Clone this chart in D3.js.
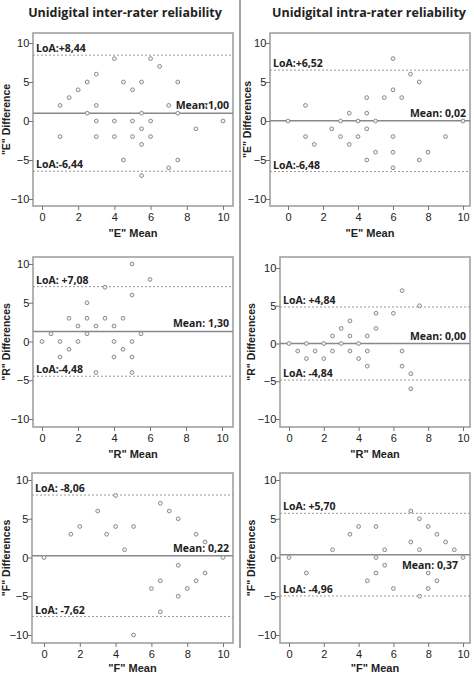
<!DOCTYPE html>
<html><head><meta charset="utf-8">
<script src="https://cdn.jsdelivr.net/npm/d3@7"></script>
<style>body{margin:0;background:#fff}</style></head>
<body><svg id="c" width="474" height="678"></svg>
<script>
const titles = ["Unidigital inter-rater reliability","Unidigital intra-rater reliability"];
const xTicks = [0,2,4,6,8,10];
const yTicks = [-10,-5,0,5,10];
const eInter = [[1,2],[1,-2],[1.5,3],[2,4],[2.5,5],[2.5,1],[3,6],[3,2],[3,0],[3,-2],[4,8],[4,0],[4,-2],[4.5,5],[4.5,-5],[5,4],[5,0],[5,-2],[5.5,5],[5.5,1],[5.5,-1],[5.5,-3],[5.5,-7],[6,8],[6,0],[6,-2],[6.5,7],[7,2],[7,-6],[7.5,5],[7.5,1],[7.5,-5],[8.5,-1],[9,2],[10,0]];
const eIntra = [[0,0],[1,2],[1,-2],[1.5,-3],[2.5,-1],[3,0],[3,-2],[3.5,1],[3.5,-3],[4,0],[4,-2],[4.5,3],[4.5,1],[4.5,-1],[4.5,-5],[5,0],[5,-4],[5.5,3],[6,8],[6,4],[6,-2],[6,-4],[6,-6],[6.5,3],[7,6],[7.5,5],[7.5,-5],[8,-4],[9,-2],[10,0]];
const rInter = [[0,0],[0.5,1],[1,0],[1,-2],[1.5,3],[1.5,-1],[2,2],[2,0],[2.5,5],[2.5,3],[2.5,1],[3,2],[3,-4],[3.5,7],[3.5,3],[4,2],[4,0],[4,-2],[4.5,3],[4.5,-1],[5,10],[5,6],[5,0],[5,-2],[5,-4],[5.5,1],[6,8]];
const rIntra = [[0,0],[0.5,-1],[1,0],[1,-2],[1.5,-1],[2,0],[2,-2],[2.5,1],[2.5,-1],[3,2],[3,0],[3.5,3],[3.5,1],[3.5,-1],[4,0],[4,-2],[4.5,1],[4.5,-1],[4.5,-3],[5,4],[5,2],[6,4],[6.5,7],[6.5,-1],[6.5,-3],[7,-4],[7,-6],[7.5,5]];
const fInter = [[0,0],[1.5,3],[2,4],[3,6],[3.5,3],[4,8],[4,4],[4.5,1],[5,4],[5,-10],[6,-4],[6.5,7],[6.5,-3],[6.5,-7],[7,6],[7.5,5],[7.5,-1],[7.5,-5],[8,-4],[8.5,3],[8.5,-3],[9,2],[9,-2],[10,0]];
const fIntra = [[0,0],[1,-2],[2.5,1],[3.5,3],[4,4],[4.5,-3],[5,4],[5,0],[5,-2],[5.5,1],[5.5,-1],[6,-4],[7,6],[7,2],[7.5,5],[7.5,1],[7.5,-5],[8,4],[8,-2],[8,-4],[8.5,3],[8.5,-3],[9,2],[9.5,1],[10,0]];
const means = [1.00,0.02,1.30,0.00,0.22,0.37];
const upper = [8.44,6.52,7.08,4.84,8.06,5.70];
const lower = [-6.44,-6.48,-4.48,-4.84,-7.62,-4.96];
const meanLabels = ["Mean:1,00","Mean: 0,02","Mean: 1,30","Mean: 0,00","Mean: 0,22","Mean: 0,37"];
const upperLabels = ["LoA:+8,44","LoA:+6,52","LoA: +7,08","LoA: +4,84","LoA: -8,06","LoA: +5,70"];
const lowerLabels = ["LoA:-6,44","LoA:-6,48","LoA:-4,48","LoA: -4,84","LoA: -7,62","LoA: -4,96"];
const yLabels = ['"E" Difference','"E" Differences','"R" Differences','"R" Differences','"F" Differences','"F" Differences'];
const xLabels = ['"E" Mean','"E" Mean','"R" Mean','"R" Mean','"F" Mean','"F" Mean'];
const datasets = [eInter,eIntra,rInter,rIntra,fInter,fIntra];

const L = [
 {box:[33,233,33,206], xr:[42,223], yr:[43,199], xl:237, yl:10},
 {box:[270,470,33,206], xr:[288,463], yr:[43,199], xl:237, yl:251},
 {box:[33,233,257,427], xr:[42,222], yr:[264,419], xl:458, yl:10},
 {box:[280,470,257,427], xr:[289,463], yr:[268,419], xl:458, yl:255},
 {box:[32,233,473,643], xr:[44,223], yr:[480,635], xl:672, yl:10},
 {box:[280,470,473,643], xr:[289,463], yr:[480,635], xl:672, yl:255}
];
const svg = d3.select("#c");
const bf = "'Open Sans', 'DejaVu Sans', sans-serif";
const af = "'Liberation Sans', Arial, sans-serif";
svg.append("text").attr("x",125).attr("y",17).attr("text-anchor","middle").attr("font-family",bf).attr("font-weight","bold").attr("font-size",12.5).attr("fill","#222").text(titles[0]);
svg.append("text").attr("x",369).attr("y",17).attr("text-anchor","middle").attr("font-family",bf).attr("font-weight","bold").attr("font-size",12.5).attr("fill","#222").text(titles[1]);
svg.append("line").attr("x1",240).attr("x2",240).attr("y1",0).attr("y2",648).attr("stroke","#444").attr("stroke-width",1);

datasets.forEach((data,i)=>{
  const p = L[i];
  const x = d3.scaleLinear().domain([0,10]).range(p.xr);
  const y = d3.scaleLinear().domain([10,-10]).range(p.yr);
  const g = svg.append("g");
  const [l,r,t,b] = p.box;
  g.append("rect").attr("x",l).attr("y",t).attr("width",r-l).attr("height",b-t).attr("fill","none").attr("stroke","#9a9a9a").attr("stroke-width",1.5);
  const xa = g.append("g").attr("transform",`translate(0,${b})`).call(d3.axisBottom(x).tickValues(xTicks).tickSize(4).tickSizeOuter(0));
  const ya = g.append("g").attr("transform",`translate(${l},0)`).call(d3.axisLeft(y).tickValues(yTicks).tickSize(4).tickSizeOuter(0));
  [xa,ya].forEach(a=>{a.select(".domain").remove();a.selectAll("line").attr("stroke","#777");a.selectAll("text").attr("font-family",af).attr("font-size",11).attr("fill","#222");});
  ya.selectAll("text").attr("dx","0.3em");
  const line=(v,dash)=>g.append("line").attr("x1",l).attr("x2",r).attr("y1",y(v)).attr("y2",y(v)).attr("stroke",dash?"#999":"#888").attr("stroke-width",dash?1:1.5).attr("stroke-dasharray",dash?"2,2":null);
  line(upper[i],true); line(lower[i],true); line(means[i],false);
  g.selectAll("circle").data(data).join("circle").attr("cx",d=>x(d[0])).attr("cy",d=>y(d[1])).attr("r",1.9).attr("fill","#f4f4f4").attr("stroke","#8a8a8a").attr("stroke-width",1);
  const lab=(tx,xx,yy,anchor)=>g.append("text").attr("x",xx).attr("y",yy).attr("text-anchor",anchor).attr("font-family",bf).attr("font-weight","bold").attr("font-size",10.5).attr("fill","#222").text(tx);
  lab(upperLabels[i],l+3,y(upper[i])-3,"start");
  lab(lowerLabels[i],l+3,y(lower[i])-3,"start");
  const below = i===5;
  lab(meanLabels[i], i===5? r-12 : r-4, below? y(means[i])+14 : y(means[i])-4,"end");
  g.append("text").attr("x",(l+r)/2).attr("y",p.xl).attr("text-anchor","middle").attr("font-family",af).attr("font-weight","bold").attr("font-size",11).attr("fill","#222").text(xLabels[i]);
  g.append("text").attr("transform",`translate(${p.yl},${(t+b)/2}) rotate(-90)`).attr("text-anchor","middle").attr("font-family",af).attr("font-weight","bold").attr("font-size",10.5).attr("fill","#222").text(yLabels[i]);
});
</script></body></html>
